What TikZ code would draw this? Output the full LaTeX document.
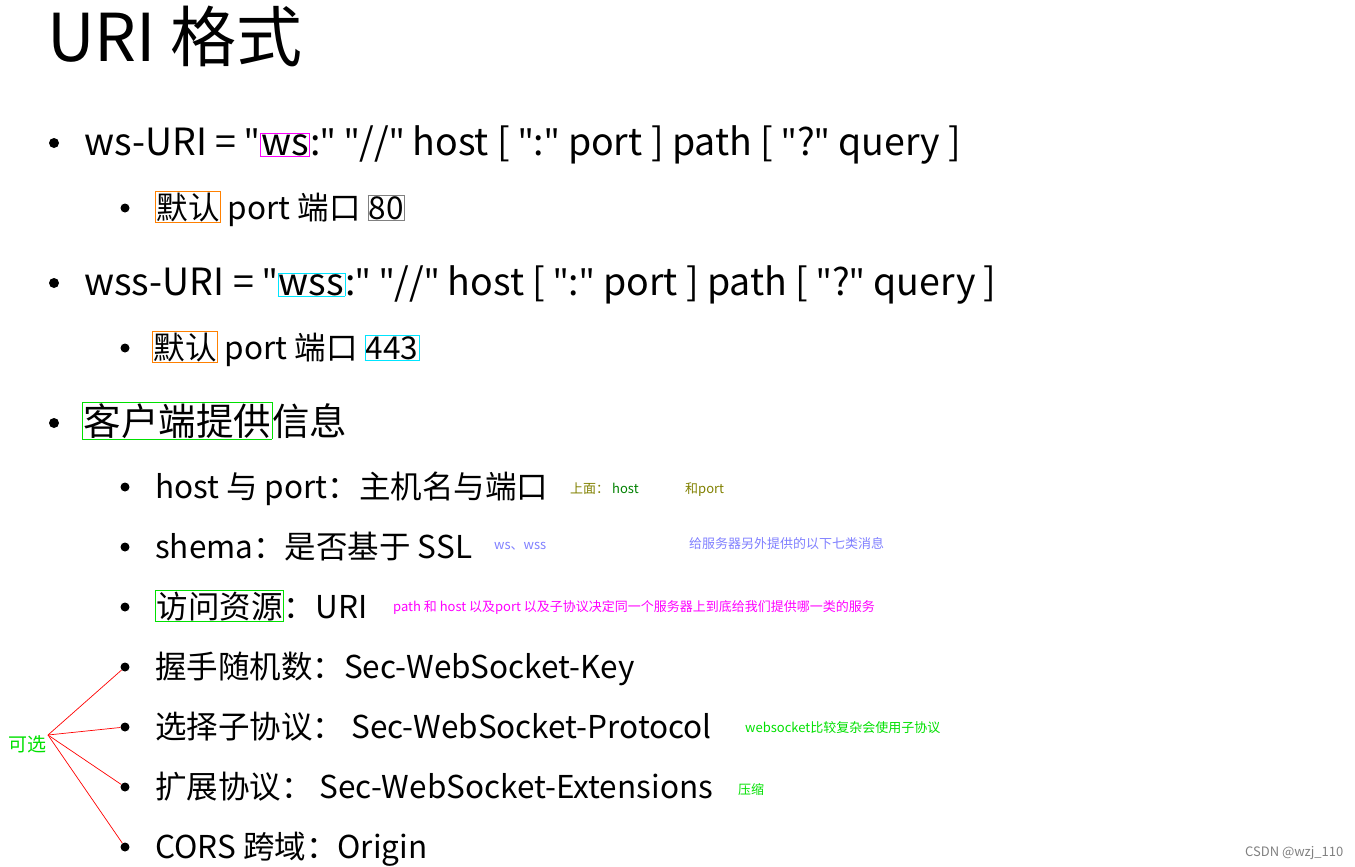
\documentclass[tikz,border=0pt]{standalone}
\usepackage{fontspec}
\setmainfont{Noto Sans CJK SC}[Ligatures=ResetAll]
\newfontfamily\latf{Noto Sans}[Ligatures=ResetAll]
\usepackage{xcolor}
\newcommand{\bx}[2]{{\setlength\fboxsep{0.5pt}\setlength\fboxrule{0.8pt}\fcolorbox{#1}{white}{#2}}}
\newcommand{\qq}{{\latf\char"22}}
\definecolor{olv}{HTML}{808000}
\definecolor{grn}{HTML}{008000}
\definecolor{lgr}{HTML}{00E000}
\definecolor{lbl}{HTML}{8080FF}
\definecolor{mag}{HTML}{FF00FF}
\definecolor{org}{HTML}{FF8000}
\definecolor{cy}{HTML}{00E5FF}
\begin{document}
\begin{tikzpicture}[x=1pt,y=-1pt,
  t/.style={anchor=base west,inner sep=0pt,font=\fontsize{#1}{#1}\selectfont},
  bul/.style={circle,fill=black,inner sep=0pt,minimum size=#1},
  note/.style={anchor=base west,inner sep=0pt,font=\fontsize{13}{13}\selectfont}]
\useasboundingbox (0,0) rectangle (1355,867);
\node[t=66] (title) at (47,62) {URI 格式};
% level 1
\node[bul=10pt] (b1) at (54,143) {};
\node[t=37.5] (l1) at (84,155) {ws-URI = \qq\bx{mag}{ws}:\qq{} \qq//\qq{} host [ \qq:\qq{} port ] path [ \qq?\qq{} query ]};
\node[bul=10pt] (b2) at (54,283) {};
\node[t=37.5] (l2) at (84,295) {wss-URI = \qq\bx{cy}{wss}:\qq{} \qq//\qq{} host [ \qq:\qq{} port ] path [ \qq?\qq{} query ]};
\node[bul=10pt] (b3) at (54,423) {};
\node[t=37.5] (l3) at (82,435) {\bx{lgr}{客户端提供}信息};
% level 2
\foreach \n/\y in {a/208,b/348,c/487,d/547,e/607,f/667,g/727,h/787,i/847}
  \node[bul=9pt] (s\n) at (125,\y) {};
\node[t=31.5] (ta) at (155,219) {\bx{org}{默认} port 端口 \bx{gray}{80}};
\node[t=31.5] (tb) at (152,359) {\bx{org}{默认} port 端口 \bx{cy}{443}};
\node[t=31.5] (tc) at (155,498) {host 与 port：主机名与端口};
\node[t=31.5] (td) at (155,558) {shema：是否基于 SSL};
\node[t=31.5] (te) at (155,618) {\bx{lgr}{访问资源}：URI};
\node[t=31.5] (tf) at (155,678) {握手随机数：Sec-WebSocket-Key};
\node[t=31.5] (tg) at (155,738) {选择子协议：\ Sec-WebSocket-Protocol};
\node[t=31.5] (th) at (155,798) {扩展协议：\ Sec-WebSocket-Extensions};
\node[t=31.5] (ti) at (155,858) {CORS 跨域：Origin};
% notes
\node[note,text=olv] (n1) at (570,493) {上面：};
\node[note,text=grn] (n2) at (612,493) {host};
\node[note,text=olv] (n3) at (685,493) {和port};
\node[note,text=lbl] (n4) at (494,549) {ws、wss};
\node[note,text=lbl] (n5) at (689,548) {给服务器另外提供的以下七类消息};
\node[note,text=mag] (n6) at (393,611) {path 和 host 以及port 以及子协议决定同一个服务器上到底给我们提供哪一类的服务};
\node[note,text=lgr] (n7) at (745,732) {websocket比较复杂会使用子协议};
\node[note,text=lgr] (n8) at (738,794) {压缩};
\node[note,text=gray] (n9) at (1245,856) {CSDN @wzj\_110};
\node[t=19,text=lgr] (opt) at (8,751) {可选};
\coordinate (o) at (48,735);
\foreach \n in {f,g,h,i} \draw[red,line width=0.7pt] (o) -- (s\n);
\end{tikzpicture}
\end{document}
